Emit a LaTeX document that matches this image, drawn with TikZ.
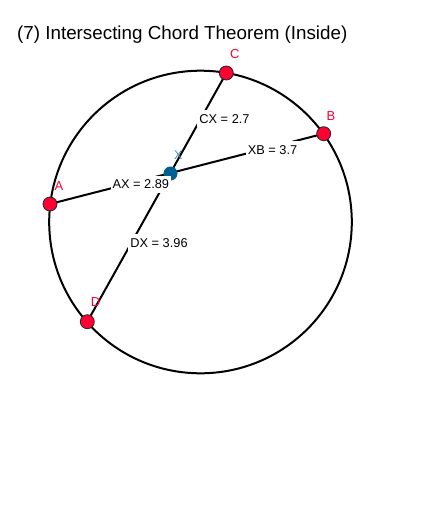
\documentclass[tikz,border=0pt]{standalone}
\usepackage{fontspec}
\setmainfont{Liberation Sans}
\usetikzlibrary{positioning}
\definecolor{ptred}{RGB}{255,0,51}
\definecolor{ptblue}{RGB}{0,95,145}
\definecolor{lblblue}{RGB}{70,140,190}
\tikzstyle{pt} = [circle, draw=black!85, line width=0.8pt, fill=ptred, minimum size=14pt, inner sep=0pt]
\tikzstyle{ptx} = [circle, fill=ptblue, minimum size=14pt, inner sep=0pt]
\tikzstyle{ptlbl} = [text=ptred, font=\fontsize{13}{13}\selectfont, inner sep=0pt]
\tikzstyle{len} = [fill=white, font=\fontsize{12.8}{13}\selectfont, anchor=base, text height=11pt, text depth=2pt, inner xsep=2pt, inner ysep=2pt]
\tikzstyle{chord} = [line width=2pt, black]

\begin{document}
\begin{tikzpicture}[x=1pt,y=-1pt]
    \useasboundingbox (0,0) rectangle (426,512);
    \node (title) [anchor=base west, inner sep=0pt, font=\fontsize{18.8}{20}\selectfont] at (17,39.3) {(7) Intersecting Chord Theorem (Inside)};
    \draw[line width=2pt] (200.5,222) circle (151.3);
    % points on the circle and the crossing point
    \coordinate (A) at (50,204);
    \coordinate (B) at (323.7,133.7);
    \coordinate (C) at (226.3,73);
    \coordinate (D) at (87.3,321.7);
    \coordinate (X) at (170.5,173.5);
    \draw[chord] (A) -- (B);
    \draw[chord] (C) -- (D);
    \node (Xpt) [ptx] at (X) {};
    \node (Xlbl) [text=lblblue, inner sep=0pt, font=\fontsize{12.5}{12.5}\selectfont] at (178.3,155) {X};
    % segment lengths
    \node (CX) [len] at (224.5,123.3) {CX = 2.7};
    \node (XB) [len] at (272.5,154) {XB = 3.7};
    \node (AX) [len] at (140.8,188.7) {AX = 2.89};
    \node (DX) [len] at (159,247.3) {DX = 3.96};
    \node (Apt) [pt] at (A) {};
    \node (Bpt) [pt] at (B) {};
    \node (Cpt) [pt] at (C) {};
    \node (Dpt) [pt] at (D) {};
    \node (Albl) [ptlbl] at (59,186) {A};
    \node (Blbl) [ptlbl] at (331,116.3) {B};
    \node (Clbl) [ptlbl] at (234.7,54) {C};
    \node (Dlbl) [ptlbl] at (95.5,302.3) {D};
\end{tikzpicture}
\end{document}
